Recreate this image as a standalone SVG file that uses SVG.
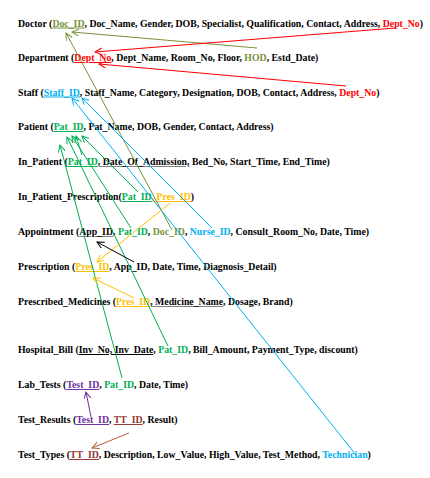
<svg xmlns="http://www.w3.org/2000/svg" width="430" height="478" viewBox="0 0 430 478">
<style>
text{font-family:"Liberation Serif","Times New Roman",serif;font-weight:bold;font-size:9.8px;fill:#000}
.u{text-decoration:underline}
.ol{fill:#77933C}.rd{fill:#FF0000}.bl{fill:#00B0F0}.gr{fill:#00B050}.yl{fill:#FFC000}.pu{fill:#7030A0}.br{fill:#953735}.gy{fill:#808080}.bk{fill:#000}
.c{fill:none;stroke-width:1}
</style>
<defs>
<marker id="aOl" markerUnits="userSpaceOnUse" markerWidth="10" markerHeight="10" refX="7" refY="3.5" orient="auto"><path d="M0,0 L7,3.5 L0,7" fill="none" stroke="#77933C" stroke-width="1"/></marker>
<marker id="aRd" markerUnits="userSpaceOnUse" markerWidth="10" markerHeight="10" refX="7" refY="3.5" orient="auto"><path d="M0,0 L7,3.5 L0,7" fill="none" stroke="#FF0000" stroke-width="1"/></marker>
<marker id="aBl" markerUnits="userSpaceOnUse" markerWidth="10" markerHeight="10" refX="7" refY="3.5" orient="auto"><path d="M0,0 L7,3.5 L0,7" fill="none" stroke="#00B0F0" stroke-width="1"/></marker>
<marker id="aGr" markerUnits="userSpaceOnUse" markerWidth="10" markerHeight="10" refX="7" refY="3.5" orient="auto"><path d="M0,0 L7,3.5 L0,7" fill="none" stroke="#00B050" stroke-width="1"/></marker>
<marker id="aYl" markerUnits="userSpaceOnUse" markerWidth="10" markerHeight="10" refX="7" refY="3.5" orient="auto"><path d="M0,0 L7,3.5 L0,7" fill="none" stroke="#FFC000" stroke-width="1"/></marker>
<marker id="aBk" markerUnits="userSpaceOnUse" markerWidth="10" markerHeight="10" refX="7" refY="3.5" orient="auto"><path d="M0,0 L7,3.5 L0,7" fill="none" stroke="#000000" stroke-width="1"/></marker>
<marker id="aPu" markerUnits="userSpaceOnUse" markerWidth="10" markerHeight="10" refX="7" refY="3.5" orient="auto"><path d="M0,0 L7,3.5 L0,7" fill="none" stroke="#7030A0" stroke-width="1"/></marker>
<marker id="aBr" markerUnits="userSpaceOnUse" markerWidth="10" markerHeight="10" refX="7" refY="3.5" orient="auto"><path d="M0,0 L7,3.5 L0,7" fill="none" stroke="#B5612F" stroke-width="1"/></marker>
</defs>
<rect width="430" height="478" fill="#fff"/>
<g id="doctor"><text x="18" y="26.5">Doctor (<tspan class="ol u">Doc_ID</tspan>, Doc_Name, Gender, DOB, Specialist, Qualification, Contact, Address, <tspan class="rd">Dept_No</tspan>)</text></g>
<g id="department"><text x="18" y="61">Department (<tspan class="rd u">Dept_No</tspan>, Dept_Name, Room_No, Floor, <tspan class="ol">HOD</tspan>, Estd_Date)</text></g>
<g id="staff"><text x="18" y="95.5">Staff (<tspan class="bl u">Staff_ID</tspan>, Staff_Name, Category, Designation, DOB, Contact, Address, <tspan class="rd">Dept_No</tspan>)</text></g>
<g id="patient"><text x="18" y="130">Patient (<tspan class="gr u">Pat_ID</tspan>, Pat_Name, DOB, Gender, Contact, Address)</text></g>
<g id="in_patient"><text x="18" y="165">In_Patient (<tspan class="gr u">Pat_ID</tspan><tspan class="gy u"><tspan class="bk">, Date_Of_Admission,</tspan></tspan> Bed_No, Start_Time, End_Time)</text></g>
<g id="in_patient_prescription"><text x="18" y="200">In_Patient_Prescription(<tspan class="gr u">Pat_ID</tspan><tspan class="yl u">, Pres_ID</tspan>)</text></g>
<g id="appointment"><text x="18" y="235">Appointment (<tspan class="gy u"><tspan class="bk">App_ID</tspan></tspan>, <tspan class="gr">Pat_ID</tspan>, <tspan class="ol">Doc_ID</tspan>, <tspan class="bl">Nurse_ID</tspan>, Consult_Room_No, Date, Time)</text></g>
<g id="prescription"><text x="18" y="270">Prescription (<tspan class="yl u">Pres_ID</tspan>, App_ID, Date, Time, Diagnosis_Detail)</text></g>
<g id="prescribed_medicines"><text x="18" y="305">Prescribed_Medicines (<tspan class="yl u">Pres_ID</tspan><tspan class="gy u"><tspan class="bk">, Medicine_Name</tspan></tspan>, Dosage, Brand)</text></g>
<g id="hospital_bill"><text x="18" y="353">Hospital_Bill (<tspan class="u">Inv_No, Inv_Date</tspan>, <tspan class="gr">Pat_ID</tspan>, Bill_Amount, Payment_Type, discount)</text></g>
<g id="lab_tests"><text x="18" y="388">Lab_Tests (<tspan class="pu u">Test_ID</tspan>, <tspan class="gr">Pat_ID</tspan>, Date, Time)</text></g>
<g id="test_results"><text x="18" y="423">Test_Results (<tspan class="pu u">Test_ID</tspan>, <tspan class="br u">TT_ID</tspan>, Result)</text></g>
<g id="test_types"><text x="18" y="458">Test_Types (<tspan class="br u">TT_ID</tspan>, Description, Low_Value, High_Value, Test_Method, <tspan class="bl">Technician</tspan>)</text></g>
<g id="connectors">
<line class="c" stroke="#77933C" x1="257" y1="48" x2="72" y2="32" marker-end="url(#aOl)"/>
<line class="c" stroke="#77933C" x1="172" y1="230" x2="66" y2="33" marker-end="url(#aOl)"/>
<line class="c" stroke="#FF0000" x1="395" y1="28" x2="95" y2="52" marker-end="url(#aRd)"/>
<line class="c" stroke="#FF0000" x1="346" y1="86" x2="99" y2="64" marker-end="url(#aRd)"/>
<line class="c" stroke="#00B0F0" x1="356" y1="455" x2="72" y2="98" marker-end="url(#aBl)"/>
<line class="c" stroke="#00B0F0" x1="212" y1="228" x2="82" y2="98" marker-end="url(#aBl)"/>
<line class="c" stroke="#00B050" x1="82" y1="155" x2="76" y2="136" marker-end="url(#aGr)"/>
<line class="c" stroke="#00B050" x1="138" y1="192" x2="82" y2="136" marker-end="url(#aGr)"/>
<line class="c" stroke="#00B050" x1="131" y1="228" x2="72" y2="136" marker-end="url(#aGr)"/>
<line class="c" stroke="#00B050" x1="168" y1="346" x2="67" y2="137" marker-end="url(#aGr)"/>
<line class="c" stroke="#00B050" x1="122" y1="378" x2="60" y2="145" marker-end="url(#aGr)"/>
<line class="c" stroke="#FFC000" x1="170" y1="203" x2="97" y2="262" marker-end="url(#aYl)"/>
<line class="c" stroke="#FFC000" x1="134" y1="298" x2="93" y2="278" marker-end="url(#aYl)"/>
<line class="c" stroke="#000000" x1="134" y1="262" x2="97" y2="242" marker-end="url(#aBk)"/>
<line class="c" stroke="#7030A0" x1="91" y1="417" x2="86" y2="392" marker-end="url(#aPu)"/>
<line class="c" stroke="#B5612F" x1="129" y1="433" x2="92" y2="448" marker-end="url(#aBr)"/>
</g>
</svg>
